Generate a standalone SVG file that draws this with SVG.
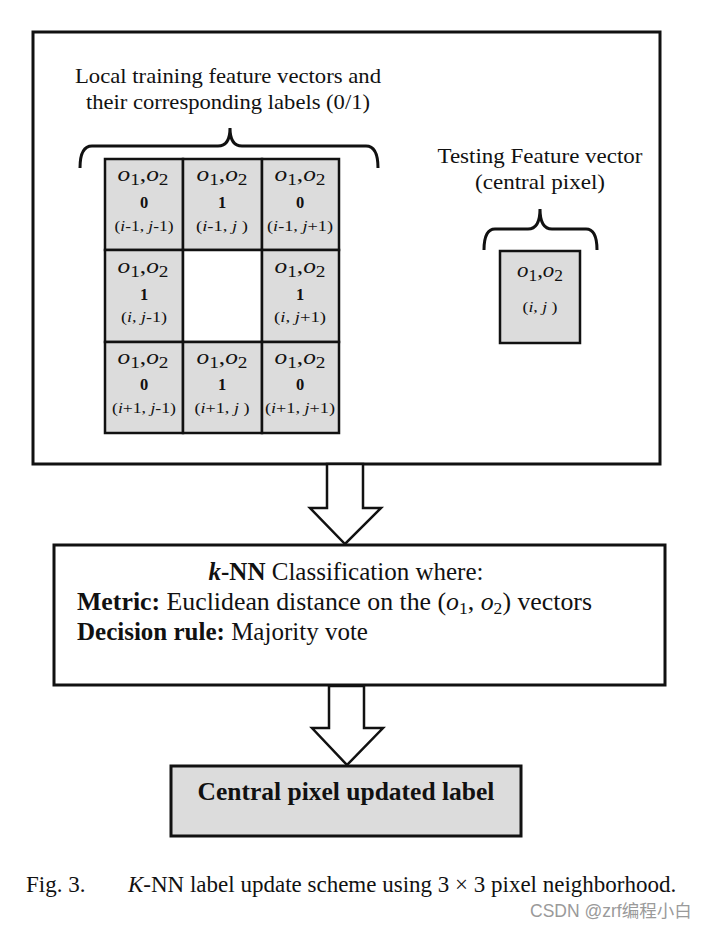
<svg xmlns="http://www.w3.org/2000/svg" width="706" height="929" viewBox="0 0 706 929">
<style>
text{font-family:"Liberation Serif","Times New Roman",serif;fill:#111}
.box{fill:#fff;stroke:#111;stroke-width:3}
.cell{fill:#dcdcdc;stroke:#111;stroke-width:2.5}
.brace{fill:none;stroke:#111;stroke-width:3}
.arrow{fill:#fff;stroke:#111;stroke-width:2.5;stroke-linejoin:miter}
.o{font-size:21px;font-style:italic;text-anchor:middle}
.s{font-size:16px;font-style:normal}
.lab{font-size:16.5px;font-weight:bold;text-anchor:middle}
.co{font-size:15px;text-anchor:middle}
.hd{font-size:22px;text-anchor:middle}
.mid{font-size:25px}
</style>
<rect width="706" height="929" fill="#fff"/>
<g id="training-panel">
<rect class="box" x="33" y="32" width="627" height="432"/>
<text class="hd" x="228" y="83" textLength="306" lengthAdjust="spacingAndGlyphs">Local training feature vectors and</text>
<text class="hd" x="228" y="109" textLength="284" lengthAdjust="spacingAndGlyphs">their corresponding labels (0/1)</text>
<path class="brace" d="M80,168 Q80,146 92,146 L218,146 Q230,146 230,128 Q230,146 242,146 L366,146 Q378,146 378,168"/>
</g>
<g id="grid">
<rect class="cell" x="105" y="159" width="78" height="91"/>
<rect class="cell" x="183" y="159" width="79" height="91"/>
<rect class="cell" x="262" y="159" width="77" height="91"/>
<rect class="cell" x="105" y="250" width="78" height="92"/>
<rect x="183" y="250" width="79" height="92" fill="#fff" stroke="#111" stroke-width="2.5"/>
<rect class="cell" x="262" y="250" width="77" height="92"/>
<rect class="cell" x="105" y="342" width="78" height="91"/>
<rect class="cell" x="183" y="342" width="79" height="91"/>
<rect class="cell" x="262" y="342" width="77" height="91"/>
<text class="o" x="143" y="181" textLength="51" lengthAdjust="spacingAndGlyphs">o<tspan class="s" dy="4">1</tspan><tspan dy="-4" font-style="normal">,</tspan>o<tspan class="s" dy="4">2</tspan></text>
<text class="o" x="222" y="181" textLength="51" lengthAdjust="spacingAndGlyphs">o<tspan class="s" dy="4">1</tspan><tspan dy="-4" font-style="normal">,</tspan>o<tspan class="s" dy="4">2</tspan></text>
<text class="o" x="300" y="181" textLength="51" lengthAdjust="spacingAndGlyphs">o<tspan class="s" dy="4">1</tspan><tspan dy="-4" font-style="normal">,</tspan>o<tspan class="s" dy="4">2</tspan></text>
<text class="lab" x="144" y="208">0</text>
<text class="lab" x="222" y="208">1</text>
<text class="lab" x="300" y="208">0</text>
<text class="co" x="144" y="231" textLength="59" lengthAdjust="spacingAndGlyphs">(<tspan font-style="italic">i</tspan>-1, <tspan font-style="italic">j</tspan>-1)</text>
<text class="co" x="222" y="231" textLength="52" lengthAdjust="spacingAndGlyphs">(<tspan font-style="italic">i</tspan>-1, <tspan font-style="italic">j</tspan> )</text>
<text class="co" x="300" y="231" textLength="66" lengthAdjust="spacingAndGlyphs">(<tspan font-style="italic">i</tspan>-1, <tspan font-style="italic">j</tspan>+1)</text>
<text class="o" x="143" y="273" textLength="51" lengthAdjust="spacingAndGlyphs">o<tspan class="s" dy="4">1</tspan><tspan dy="-4" font-style="normal">,</tspan>o<tspan class="s" dy="4">2</tspan></text>
<text class="o" x="300" y="273" textLength="51" lengthAdjust="spacingAndGlyphs">o<tspan class="s" dy="4">1</tspan><tspan dy="-4" font-style="normal">,</tspan>o<tspan class="s" dy="4">2</tspan></text>
<text class="lab" x="144" y="300">1</text>
<text class="lab" x="300" y="300">1</text>
<text class="co" x="144" y="322" textLength="46" lengthAdjust="spacingAndGlyphs">(<tspan font-style="italic">i</tspan>, <tspan font-style="italic">j</tspan>-1)</text>
<text class="co" x="300" y="322" textLength="52" lengthAdjust="spacingAndGlyphs">(<tspan font-style="italic">i</tspan>, <tspan font-style="italic">j</tspan>+1)</text>
<text class="o" x="143" y="364" textLength="51" lengthAdjust="spacingAndGlyphs">o<tspan class="s" dy="4">1</tspan><tspan dy="-4" font-style="normal">,</tspan>o<tspan class="s" dy="4">2</tspan></text>
<text class="o" x="222" y="364" textLength="51" lengthAdjust="spacingAndGlyphs">o<tspan class="s" dy="4">1</tspan><tspan dy="-4" font-style="normal">,</tspan>o<tspan class="s" dy="4">2</tspan></text>
<text class="o" x="300" y="364" textLength="51" lengthAdjust="spacingAndGlyphs">o<tspan class="s" dy="4">1</tspan><tspan dy="-4" font-style="normal">,</tspan>o<tspan class="s" dy="4">2</tspan></text>
<text class="lab" x="144" y="390">0</text>
<text class="lab" x="222" y="390">1</text>
<text class="lab" x="300" y="390">0</text>
<text class="co" x="144" y="413" textLength="64" lengthAdjust="spacingAndGlyphs">(<tspan font-style="italic">i</tspan>+1, <tspan font-style="italic">j</tspan>-1)</text>
<text class="co" x="222" y="413" textLength="55" lengthAdjust="spacingAndGlyphs">(<tspan font-style="italic">i</tspan>+1, <tspan font-style="italic">j</tspan> )</text>
<text class="co" x="300" y="413" textLength="70" lengthAdjust="spacingAndGlyphs">(<tspan font-style="italic">i</tspan>+1, <tspan font-style="italic">j</tspan>+1)</text>
</g>
<g id="testing-vector">
<text class="hd" x="540" y="163" textLength="205" lengthAdjust="spacingAndGlyphs">Testing Feature vector</text>
<text class="hd" x="540" y="189" textLength="130" lengthAdjust="spacingAndGlyphs">(central pixel)</text>
<path class="brace" d="M484,250 Q484,229 495,229 L528,229 Q540,229 540,209 Q540,229 552,229 L586,229 Q597,229 597,250"/>
<rect class="cell" x="500" y="251" width="80" height="92"/>
<text class="o" x="540" y="277" textLength="46" lengthAdjust="spacingAndGlyphs">o<tspan class="s" dy="4">1</tspan><tspan dy="-4" font-style="normal">,</tspan>o<tspan class="s" dy="4">2</tspan></text>
<text class="co" x="540" y="312" textLength="35" lengthAdjust="spacingAndGlyphs">(<tspan font-style="italic">i</tspan>, <tspan font-style="italic">j</tspan> )</text>
</g>
<g id="knn-box">
<rect class="box" x="54" y="545" width="611" height="140"/>
<text class="mid" x="346" y="580" text-anchor="middle"><tspan font-weight="bold" font-style="italic">k</tspan><tspan font-weight="bold">-NN</tspan> Classification where:</text>
<text class="mid" x="77" y="610" textLength="515" lengthAdjust="spacingAndGlyphs"><tspan font-weight="bold">Metric:</tspan> Euclidean distance on the (<tspan font-style="italic">o</tspan><tspan font-size="17" dy="4">1</tspan><tspan dy="-4">, </tspan><tspan font-style="italic">o</tspan><tspan font-size="17" dy="4">2</tspan><tspan dy="-4">)</tspan> vectors</text>
<text class="mid" x="77" y="640"><tspan font-weight="bold">Decision rule:</tspan> Majority vote</text>
</g>
<g id="result-box">
<rect x="171" y="766" width="350" height="70" fill="#dcdcdc" stroke="#111" stroke-width="3"/>
<text x="346" y="800" font-size="25.5" font-weight="bold" text-anchor="middle">Central pixel updated label</text>
</g>
<g id="connectors">
<polygon class="arrow" points="327,464 327,508 310,508 345,544 381,508 363,508 363,464"/>
<polygon class="arrow" points="329,686 329,728 312,728 347,765 383,728 364,728 364,686"/>
</g>
<g id="caption">
<text x="26" y="892" font-size="23">Fig. 3.</text>
<text x="128" y="892" font-size="23"><tspan font-style="italic">K</tspan>-NN label update scheme using 3 × 3 pixel neighborhood.</text>
<text x="530" y="917" font-size="17.5" style="font-family:'Liberation Sans','Noto Sans CJK SC',sans-serif;fill:#9a9a9a">CSDN @zrf编程小白</text>
</g>
</svg>
